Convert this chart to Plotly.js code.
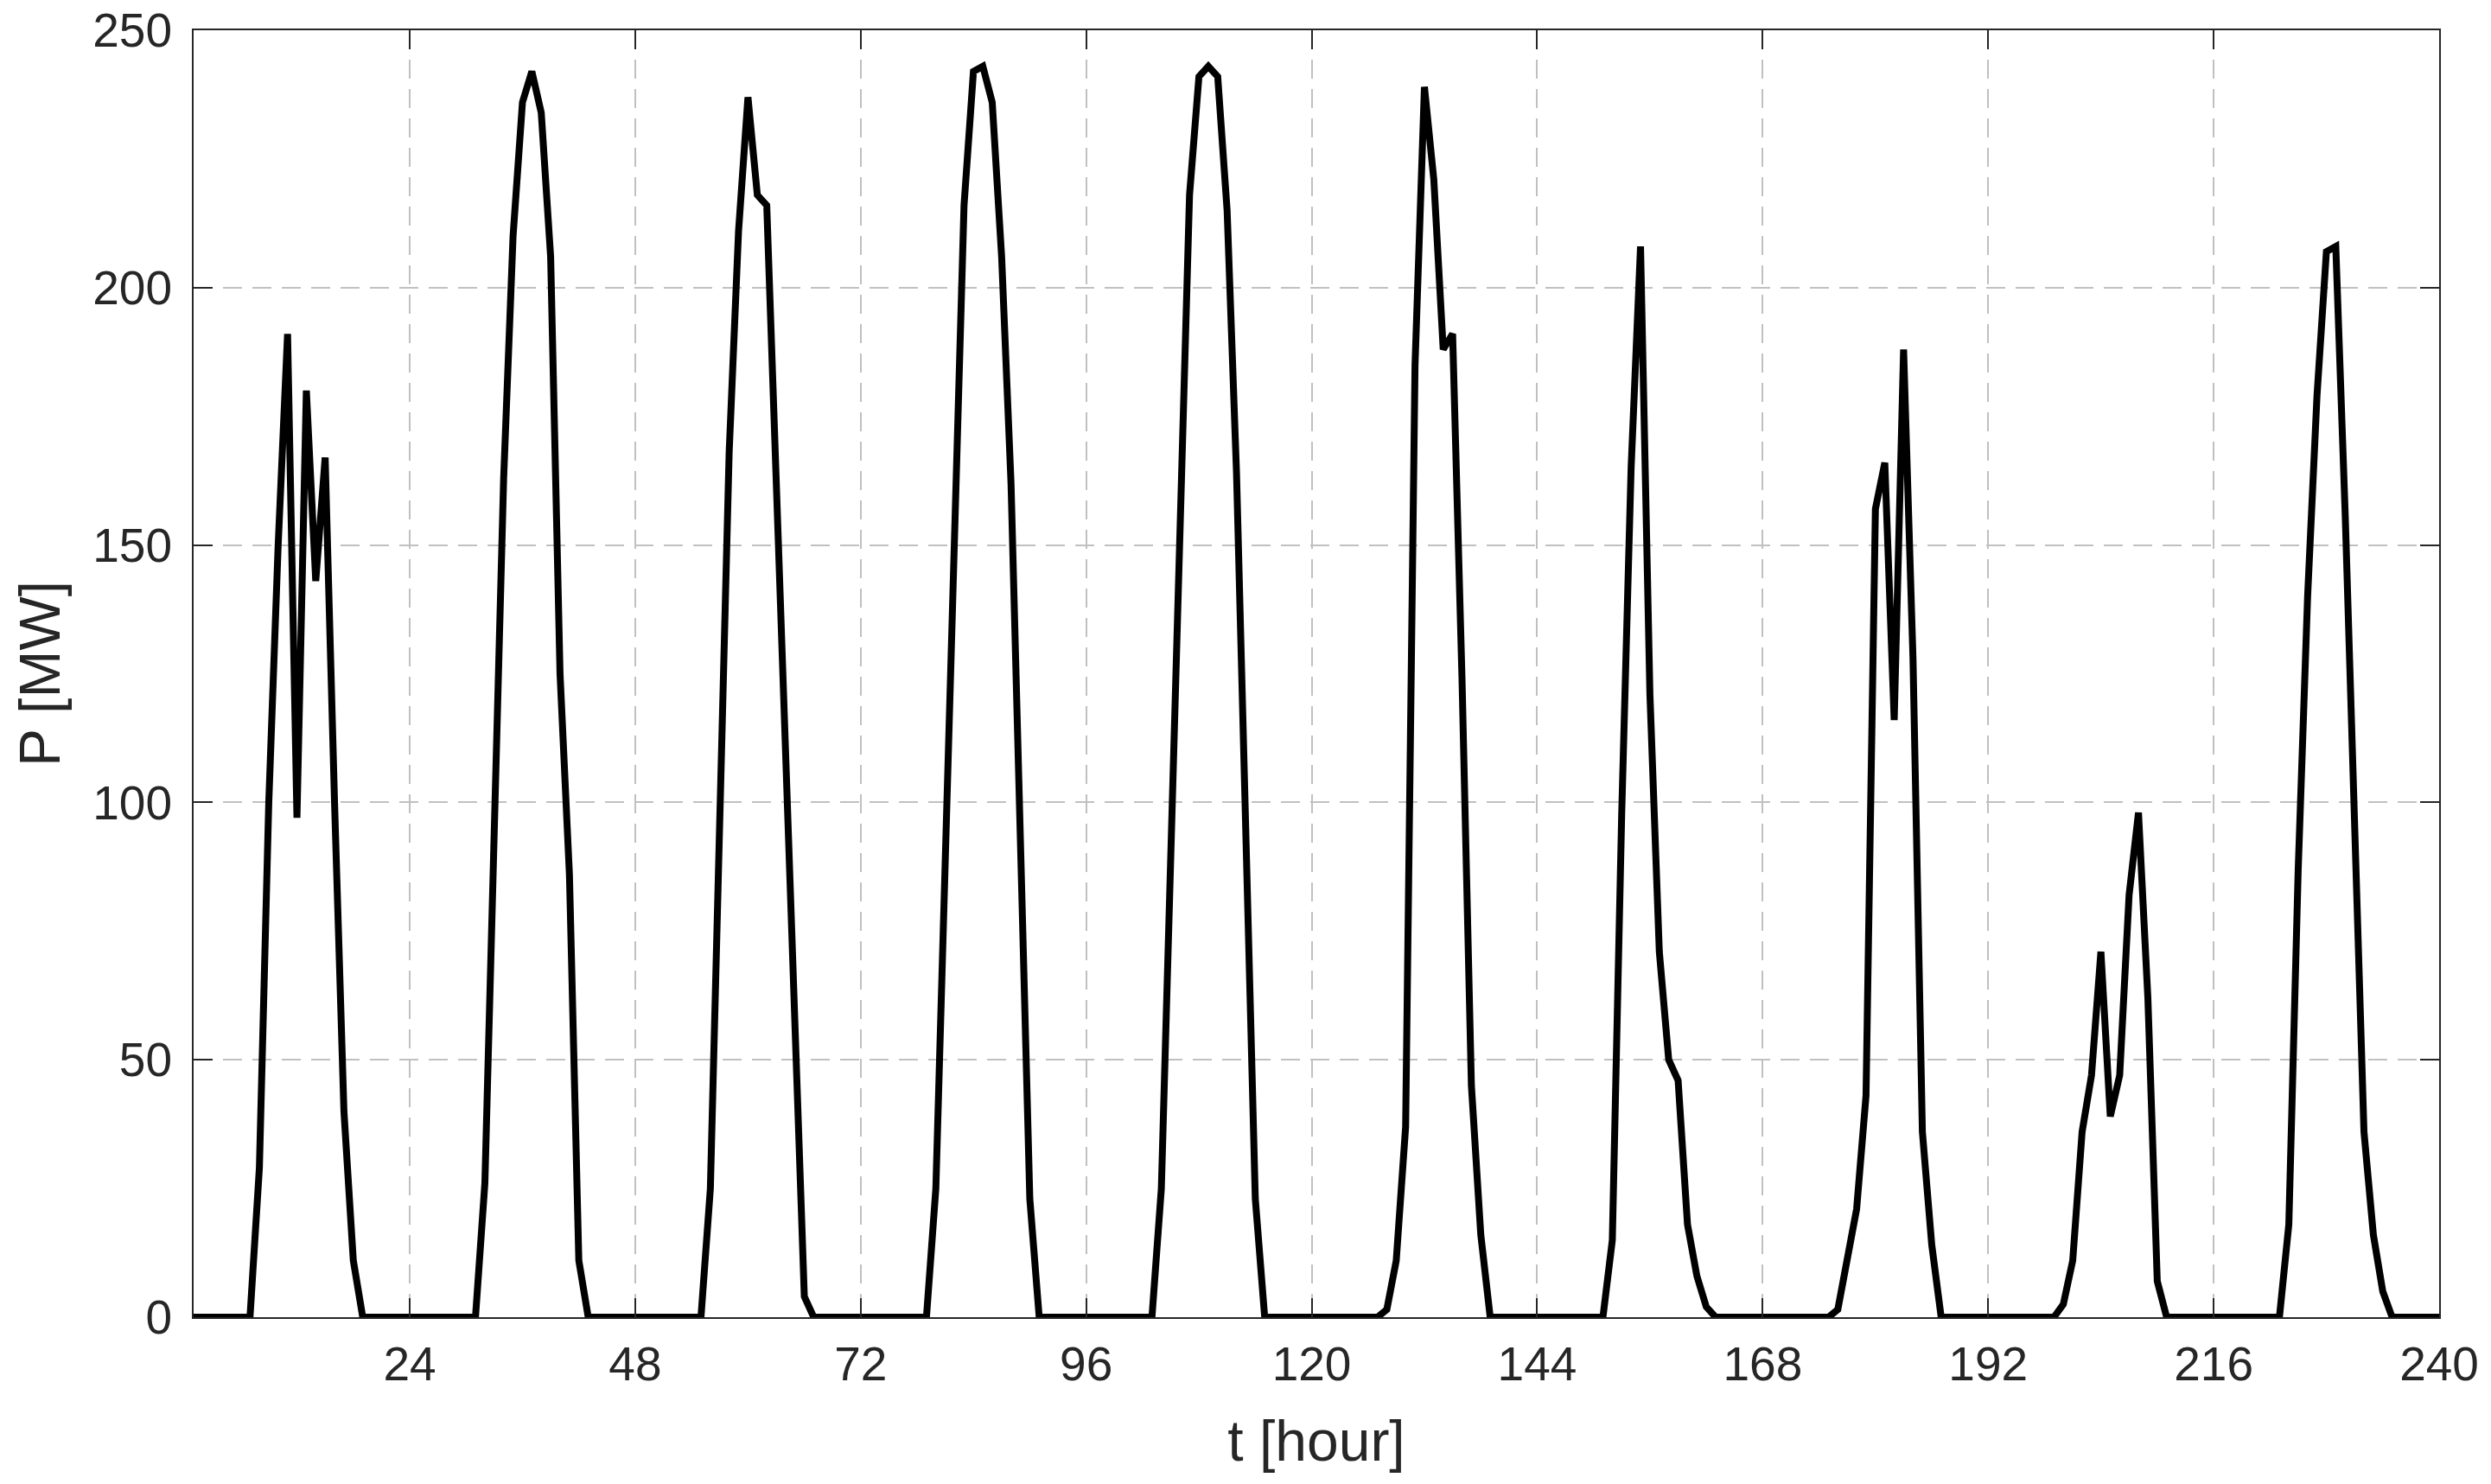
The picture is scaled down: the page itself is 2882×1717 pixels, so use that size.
<!DOCTYPE html>
<html>
<head>
<meta charset="utf-8">
<script src="https://cdn.plot.ly/plotly-3.0.1.min.js"></script>
<style>
  html, body { margin: 0; padding: 0; background: #ffffff; }
  #chart { width: 2882px; height: 1717px; }
</style>
</head>
<body>
<div id="chart"></div>
<script>
// Hourly power output P [MW], one array per day (24 hours each)
const day1  = [0,0,0,0,0,0,0,29,100,150,191,97,180,143,167,100,40,11,0,0,0,0,0,0];
const day2  = [0,0,0,0,0,0,0,26,97,163,210,236,242,234,206,125,86,11,0,0,0,0,0,0];
const day3  = [0,0,0,0,0,0,0,25,94,168,211,237,218,216,163,112,57,4,0,0,0,0,0,0];
const day4  = [0,0,0,0,0,0,0,25,90,162,216,242,243,236,206,162,92,23,0,0,0,0,0,0];
const day5  = [0,0,0,0,0,0,0,25,90,162,218,241,243,241,215,164,95,23,0,0,0,0,0,0];
const day6  = [0,0,0,0,0,0,0,1.5,11,37,185,239,221,188,191,124,45,16,0,0,0,0,0,0];
const day7  = [0,0,0,0,0,0,0,15,98,165,208,121,71,50,46,18,8,2,0,0,0,0,0,0];
const day8  = [0,0,0,0,0,0,0,1.5,11,21,43,157,166,116,188,128,36,14,0,0,0,0,0,0];
const day9  = [0,0,0,0,0,0,0,2.5,11,36,47,71,39,47,82,98,62,7,0,0,0,0,0,0];
const day10 = [0,0,0,0,0,0,0,18,87,140,179,207,208,156,95,36,16,5,0,0,0,0,0,0];

const xTickValues = [24,48,72,96,120,144,168,192,216,240];
const xTickLabels = ['24','48','72','96','120','144','168','192','216','240'];
const yTickValues = [0,50,100,150,200,250];
const yTickLabels = ['0','50','100','150','200','250'];

const power = [].concat(day1, day2, day3, day4, day5, day6, day7, day8, day9, day10);
const hours = power.map((_, i) => i + 1);

const textColor = '#262626';
const font = 'Liberation Sans, Arial, Helvetica, sans-serif';

const trace = {
  x: hours,
  y: power,
  type: 'scatter',
  mode: 'lines',
  line: { color: '#000000', width: 8 },
  hoverinfo: 'skip'
};

const axisCommon = {
  showline: true,
  linecolor: textColor,
  linewidth: 2,
  mirror: 'ticks',
  ticks: 'inside',
  ticklen: 22,
  tickwidth: 2,
  tickcolor: textColor,
  showgrid: true,
  gridcolor: '#c0c0c0',
  gridwidth: 2,
  griddash: '22px,12px',
  zeroline: false,
  tickfont: { family: font, size: 55, color: textColor }
};

const layout = {
  width: 2882,
  height: 1717,
  autosize: false,
  paper_bgcolor: '#ffffff',
  plot_bgcolor: '#ffffff',
  showlegend: false,
  margin: { l: 224, r: 60, t: 35, b: 193, pad: 0 },
  xaxis: Object.assign({}, axisCommon, {
    range: [1, 240],
    tickmode: 'array',
    tickvals: xTickValues,
    ticktext: xTickLabels,
    ticklabelstandoff: 5,
    title: { text: 't [hour]', font: { family: font, size: 66, color: textColor }, standoff: 36 }
  }),
  yaxis: Object.assign({}, axisCommon, {
    range: [0, 250],
    tickmode: 'array',
    tickvals: yTickValues,
    ticktext: yTickLabels,
    ticklabelstandoff: 12,
    title: { text: 'P [MW]', font: { family: font, size: 66, color: textColor }, standoff: 16 }
  })
};

Plotly.newPlot('chart', [trace], layout, { displayModeBar: false, staticPlot: true });
</script>
</body>
</html>
